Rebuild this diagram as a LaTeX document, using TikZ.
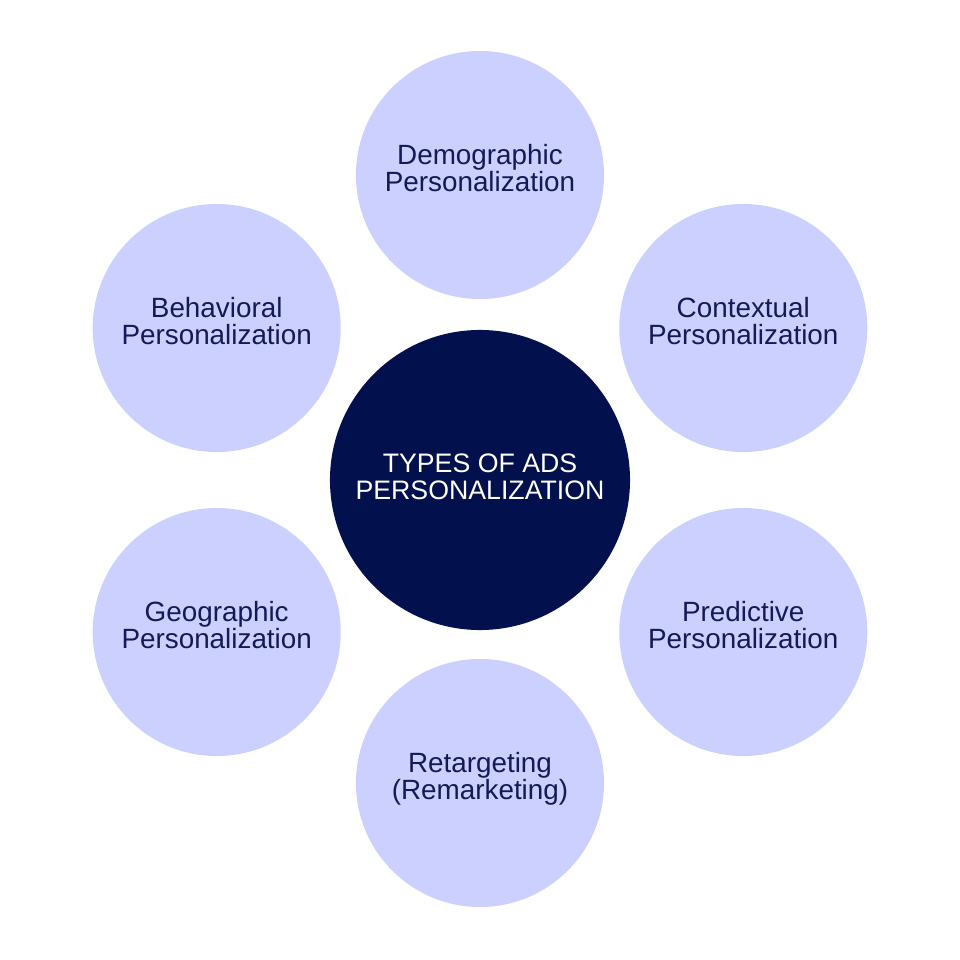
\documentclass[tikz,border=0pt]{standalone}
\usepackage{fontspec}
\setmainfont{Liberation Sans}
\usepackage{xcolor}
\usepackage{tikz}
\usetikzlibrary{positioning, backgrounds}

\definecolor{navy}{HTML}{03104E}
\definecolor{lavender}{HTML}{CCD0FF}
\definecolor{inktext}{HTML}{141A55}

\begin{document}
\begin{tikzpicture}[
  x=0.025cm, y=0.025cm,
  every node/.style={font=\fontsize{19.8}{18.9}\selectfont},
  hub/.style={circle, fill=navy, text=white, minimum size=7.5cm,
              inner sep=0pt, align=center, text depth=5pt,
              font=\fontsize{19}{18.9}\selectfont},
  kind/.style={circle, fill=lavender, text=inktext, minimum size=6.2cm,
               inner sep=0pt, align=center, text depth=10pt},
]
\useasboundingbox (-480,-480) rectangle (480,480);

% Centre
\node[hub] (types) at (0,0) {TYPES OF ADS\\PERSONALIZATION};

% Ring of personalization types
\node[kind] (demo) at (90:305) {Demographic\\Personalization};
\node[kind] (context) at (30:304) {Contextual\\Personalization};
\node[kind] (predict) at (-30:304) {Predictive\\Personalization};
\node[kind] (retarget) at (-90:303) {Retargeting\\(Remarketing)};
\node[kind] (geo) at (-150:304) {Geographic\\Personalization};
\node[kind] (behave) at (150:304) {Behavioral\\Personalization};

\end{tikzpicture}
\end{document}
